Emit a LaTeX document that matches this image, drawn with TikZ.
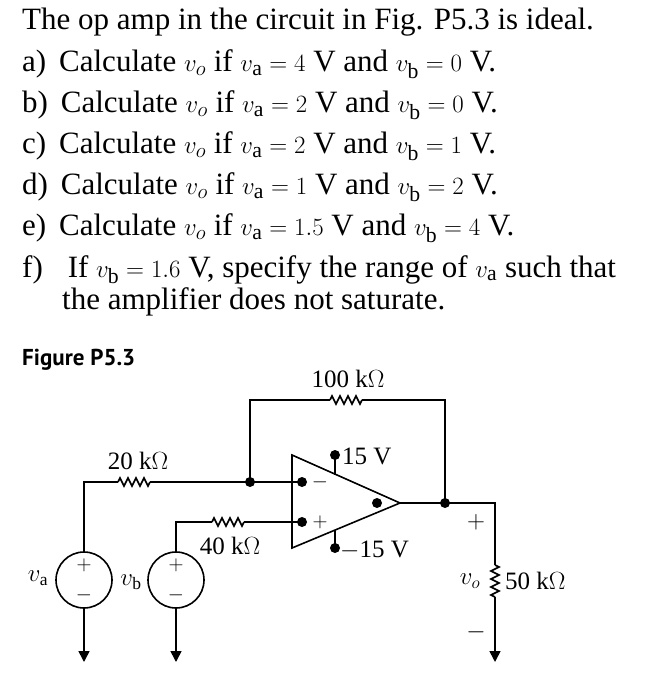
\documentclass[tikz,border=0pt]{standalone}
\usepackage{fontspec}
\setmainfont{Liberation Serif}
\setsansfont{PT Sans}
\usetikzlibrary{arrows.meta,decorations.pathmorphing}
\begin{document}
\begin{tikzpicture}[x=1pt,y=-1pt,
  txt/.style={anchor=base west,inner sep=0,font=\fontsize{31}{33}\selectfont},
  lbl/.style={inner sep=1pt,font=\fontsize{25}{27}\selectfont},
  sgn/.style={inner sep=0,font=\fontsize{21}{21}\selectfont},
  wire/.style={line width=1.6pt},
  res/.style={wire,decorate,decoration={zigzag,segment length=8pt,amplitude=4pt}},
  dot/.style={circle,fill,inner sep=0,minimum size=10pt},
  gnd/.style={wire,-{Triangle[width=11pt,length=11pt]}}]
\useasboundingbox (0,0) rectangle (656,700);
\fill[white] (0,0) rectangle (656,700);
\node[txt] (t0) at (22,30) {The op amp in the circuit in Fig. P5.3 is ideal.};
\node[txt] (ta) at (22,72) {a)\, Calculate $v_o$ if $v_{\mathrm a}=4$ V and $v_{\mathrm b}=0$ V.};
\node[txt] (tb) at (22,113) {b)\, Calculate $v_o$ if $v_{\mathrm a}=2$ V and $v_{\mathrm b}=0$ V.};
\node[txt] (tc) at (22,154) {c)\, Calculate $v_o$ if $v_{\mathrm a}=2$ V and $v_{\mathrm b}=1$ V.};
\node[txt] (td) at (22,195) {d)\, Calculate $v_o$ if $v_{\mathrm a}=1$ V and $v_{\mathrm b}=2$ V.};
\node[txt] (te) at (22,236) {e)\, Calculate $v_o$ if $v_{\mathrm a}=1.5$ V and $v_{\mathrm b}=4$ V.};
\node[txt] (tf) at (22,277) {f)\;\; If $v_{\mathrm b}=1.6$ V, specify the range of $v_{\mathrm a}$ such that};
\node[txt] (tf2) at (62,309) {the amplifier does not saturate.};
\node[anchor=base west,inner sep=0,font=\sffamily\bfseries\fontsize{23}{25}\selectfont] (fig) at (22,365) {Figure P5.3};
% nodes
\coordinate (j1) at (250,482);
\coordinate (j2) at (445,503);
\coordinate (nin) at (302,482);
\coordinate (pin) at (302,522);
\node[circle,draw,wire,minimum size=56pt,inner sep=0] (va) at (84,580) {};
\node[circle,draw,wire,minimum size=56pt,inner sep=0] (vb) at (176,580) {};
\node[sgn] at (84,565) {$+$};
\node[sgn] at (84,595) {$-$};
\node[sgn] at (176,565) {$+$};
\node[sgn] at (176,595) {$-$};
\node[lbl] at (38,578) {$v_{\mathrm a}$};
\node[lbl] at (131,582) {$v_{\mathrm b}$};
% op amp
\draw[wire] (292,455) -- (400,503) -- (292,548) -- cycle;
\draw[wire] (335,455) -- (335,475);
\draw[wire] (335,530) -- (335,548);
\node[dot] (vp) at (335,455) {};
\node[dot] (vn) at (335,548) {};
\node[lbl,anchor=west] at (341,456) {15 V};
\node[lbl,anchor=west] at (339,550) {$-$15 V};
\node[dot] at (377,503) {};
\node[dot] at (nin) {};
\node[dot] at (pin) {};
\node[sgn] at (320,482) {$-$};
\node[sgn] at (320,522) {$+$};
% wires
\draw[wire] (va.north) -- (84,482) -- (118,482);
\draw[res] (118,482) -- (150,482);
\draw[wire] (150,482) -- (j1) -- (nin);
\node[lbl] at (138,461) {20 k$\Omega$};
\draw[wire] (j1) -- (250,400) -- (330,400);
\draw[res] (330,400) -- (362,400);
\draw[wire] (362,400) -- (445,400) -- (j2);
\node[lbl] at (348,379) {100 k$\Omega$};
\draw[wire] (vb.north) -- (176,522) -- (212,522);
\draw[res] (212,522) -- (244,522);
\draw[wire] (244,522) -- (pin);
\node[lbl] at (230,546) {40 k$\Omega$};
\draw[wire] (400,503) -- (j2) -- (495,503) -- (495,565);
\draw[res] (495,565) -- (495,597);
\node[dot] at (250,482) {};
\node[dot] at (445,503) {};
\node[lbl] at (476,522) {$+$};
\node[lbl] at (476,632) {$-$};
\node[lbl] at (470,581) {$v_o$};
\node[lbl,anchor=west] at (504,581) {50 k$\Omega$};
\draw[gnd] (495,597) -- (495,662);
\draw[gnd] (va.south) -- (84,662);
\draw[gnd] (vb.south) -- (176,662);
\end{tikzpicture}
\end{document}
